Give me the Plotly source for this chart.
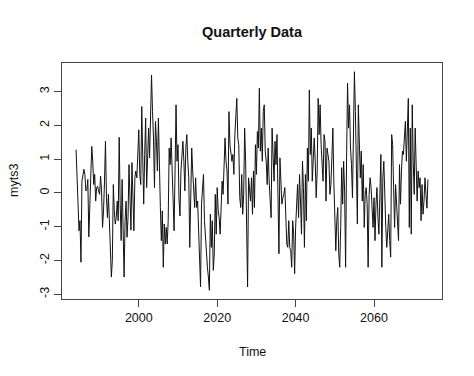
import plotly.graph_objects as go

# Quarterly series (ts start = 1984 Q1, frequency = 4)
start_year = 1984
frequency = 4

values_1984_1997 = [
    1.28, 0.35, -0.73, -1.12,
    -0.82, -2.05, 0.35, 0.60,
    0.70, 0.55, 0.06, 0.10, 0.40,
    -1.30, -0.24, 0.75, 1.38,
    0.94, 0.25, 0.55, -0.24,
    0.16, 0.20, 0.06, -0.04,
    0.50, 0.06, -1.02, -0.53,
    0.35, 1.53, -0.14, -0.73,
    -0.04, -1.02, -1.41, -2.49,
    -2.00, 0.25, -0.53, -0.92,
    -0.73, -0.24, -0.82, 1.65,
    -0.33, -1.41, 0.40, -1.80,
    -2.49, -0.82, -0.24, -1.31,
    -0.73, 0.84, -0.40, -1.10,
]
values_1998_2014 = [
    0.90, -0.04, -1.12, 0.45,
    0.65, 0.45, 1.43,
    1.87, 0.55, 0.25,
    2.56, 0.65, -0.33, 1.14,
    2.22, 0.16, 1.33,
    1.92, 1.04, 2.90,
    3.49,
    2.41, 1.63, 0.16, 2.12,
    1.53, 0.65, 2.22,
    0.16, -0.43, -1.41, -0.53,
    -2.20, -0.92, -1.51,
    -1.02, -1.51, -0.82,
    1.33, 0.84, 1.63,
    0.45, -0.24, -1.12, 0.65,
    2.61, 0.94, 1.43, -0.14,
    -0.68, 0.65, 1.14,
    1.53, 0.94, 0.06, 1.33,
    1.73, 0.94, 0.45,
    -1.61, -0.04, 1.33,
    0.65, 0.16, -0.43, 0.45,
]
values_2014_2031 = [
    -0.43, -0.24,
    -1.02, -2.00, -2.78,
    -0.33, 0.06, 0.55, -0.82,
    -1.31, -2.00, -2.20,
    -2.49, -2.88, -0.63, -1.61,
    -0.82, -2.29, -1.80,
    -0.04, -1.22, 0.16, -0.53,
    -0.73, -1.22, -0.63,
    0.35, -0.04, 0.94,
    1.63, 0.94, 0.65, -0.33,
    2.41, 1.43, 1.14, 0.94,
    1.14, 0.55, 1.73,
    2.12, 2.80, 1.63,
    1.43, -0.14, -0.43,
    0.55, -0.63, -0.04, 1.92,
    0.94, -0.43, -2.78,
    0.45, 0.16, -0.24,
    0.45, -0.63, 0.65,
    -0.43, 1.43, 0.55, 1.82,
    1.33, 3.10, 1.24,
]
values_2031_2047 = [
    1.92, 0.94,
    2.41, 2.61, 1.24,
    0.94, 0.25, 1.33,
    0.35, -0.33, -0.73,
    1.92, 1.04, 0.35, 1.53,
    0.84, 1.73, -0.92, -1.80,
    1.04, 0.45, -0.33, -0.14,
    -0.04, 0.16, -1.02,
    -1.51, -1.61, -0.82,
    -1.61, -1.71, -2.20,
    -0.82, -1.22, -2.39, -1.02,
    -0.53, 0.25, -0.73, 0.55,
    -0.24, -1.22, 0.94,
    0.16, -1.61, 0.55,
    -0.82, 1.33, 0.35,
    3.05, 1.14, 1.92, 0.35,
    1.33, 1.63, 0.94,
    -0.14, 0.65, 2.80, 1.73,
    2.61, 1.43, 0.94,
    0.35, 1.73, 1.53,
]
values_2047_2064 = [
    -0.24, 1.33,
    1.14, 0.94, -0.04, 0.25,
    1.04, 1.92, 0.35,
    -1.31, -1.71, -0.82,
    -0.43, -1.80, -2.20, -1.02,
    0.75, -0.33, 0.94,
    0.06, -2.20, 1.04,
    3.25, 1.92, 2.61, 1.33,
    0.84, -0.14, 1.53,
    3.59, 2.41, 1.04, -0.92,
    2.61, 1.53, 0.45,
    1.24, -0.24, 0.84,
    -1.02, -0.04, 0.16, -0.33,
    -2.20, -0.04, 0.45,
    0.16, -0.33, -1.02,
    -0.14, -1.41, -0.33,
    0.16, -0.73, -1.22, -0.04,
    1.14, -2.20, 0.45,
    0.94, -0.33, -1.02, -1.61,
    -1.22, -0.63, -1.41,
]
values_2064_2073 = [
    -1.90, 1.73,
    1.43, 0.16, -1.02, 0.25,
    -0.43, -0.73, -1.41,
    0.84, -0.33, 0.65,
    1.24, 1.14, 1.53,
    2.12, 0.94, 1.92,
    2.80, -1.02, 1.92, -1.22,
    2.61, 0.94, -0.04,
    1.92, 1.04, -0.24,
    0.65, 0.16, 0.45, -0.82,
    0.25, -0.63, -0.24,
    0.45, -0.04, -0.45, 0.40,
]

myts3 = (values_1984_1997 + values_1998_2014 + values_2014_2031
         + values_2031_2047 + values_2047_2064 + values_2064_2073)
time_index = [start_year + i / frequency for i in range(len(myts3))]

x_ticks = [2000, 2020, 2040, 2060]
y_ticks = [-3, -2, -1, 0, 1, 2, 3]


def r_range(vals):
    lo, hi = min(vals), max(vals)
    pad = 0.04 * (hi - lo)
    return [lo - pad, hi + pad]


ink = "#111111"
box = "#444444"
font_family = "Liberation Sans, Arial, Helvetica, sans-serif"

# the page body adds an 8px offset; the figure is sized to compensate
page_offset = 8
fig_w, fig_h = 474 - page_offset, 376 - page_offset

fig = go.Figure(
    go.Scatter(x=time_index, y=myts3, mode="lines",
               line=dict(color="#111111", width=1), hoverinfo="skip")
)

axis_common = dict(
    showgrid=False, zeroline=False, showline=True, mirror=True,
    linecolor=box, linewidth=1, ticks="outside", ticklen=7,
    tickwidth=1, tickcolor=box, tickfont=dict(size=12.5, color=ink),
)

fig.update_xaxes(range=r_range(time_index), tickmode="array",
                 tickvals=x_ticks, ticktext=[str(t) for t in x_ticks],
                 **axis_common)
fig.update_yaxes(range=r_range(myts3), tickmode="array",
                 tickvals=y_ticks, ticktext=[str(t) for t in y_ticks],
                 tickangle=-90, **axis_common)

fig.update_layout(
    width=fig_w, height=fig_h,
    margin=dict(l=62 - page_offset, r=32, t=63 - page_offset, b=77),
    paper_bgcolor="white", plot_bgcolor="white",
    showlegend=False,
    font=dict(family=font_family, size=12.5, color=ink),
    title=dict(text="<b>Quarterly Data</b>",
               x=(252 - page_offset) / fig_w, xanchor="center",
               xref="container", y=1 - (32 - page_offset) / fig_h,
               yanchor="middle", yref="container",
               font=dict(size=14.5, color=ink)),
    annotations=[
        dict(text="Time", xref="paper", yref="paper", x=0.5, y=0,
             xanchor="center", yanchor="middle", yshift=-53,
             showarrow=False, font=dict(size=12.5, color=ink)),
        dict(text="myts3", xref="paper", yref="paper", x=0, y=0.5,
             xanchor="center", yanchor="middle", xshift=-48,
             textangle=-90, showarrow=False,
             font=dict(size=12.5, color=ink)),
    ],
)

fig.write_html("out.html")
